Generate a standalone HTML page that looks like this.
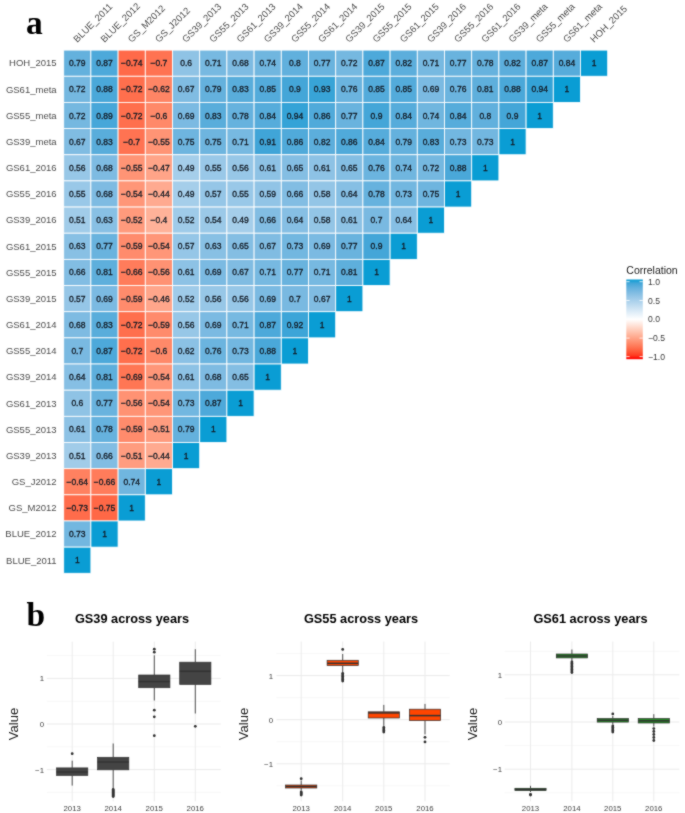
<!DOCTYPE html>
<html><head><meta charset="utf-8"><title>Correlation heatmap and boxplots</title>
<style>
html,body{margin:0;padding:0;background:#fff;}
body{width:685px;height:813px;overflow:hidden;}
svg{display:block;}
text{font-family:"Liberation Sans",Arial,sans-serif;}
.cv text{font-size:8.5px;fill:#121a24;stroke:#121a24;stroke-width:0.3px;}
.rl text{font-size:9.5px;fill:#4d4d4d;}
.lt{font-size:10.5px;fill:#222;}
.ll text{font-size:8.6px;fill:#383838;}
.pl{font-family:"Liberation Serif","Times New Roman",serif !important;font-weight:bold;font-size:33.5px;fill:#000;}
.gmn{stroke:#f2f2f2;stroke-width:0.6;}
.gmj{stroke:#ebebeb;stroke-width:1;}
.box .wh{stroke:#333;stroke-width:0.85;}
.box .bx{stroke:#333;stroke-width:0.7;}
.box .md{stroke:#333;stroke-width:1.5;}
.box circle{fill:#333;}
.tk text{font-size:7.8px;fill:#444;}
.ti{font-size:12.75px;font-weight:bold;fill:#000;}
.vl{font-size:13px;fill:#1a1a1a;}
</style></head>
<body>
<svg width="685" height="813" viewBox="0 0 685 813">
<defs><filter id="soft" filterUnits="userSpaceOnUse" x="0" y="0" width="685" height="813" color-interpolation-filters="sRGB"><feConvolveMatrix order="3" kernelMatrix="1 2 1 2 16 2 1 2 1" divisor="28" edgeMode="duplicate"/></filter></defs>
<g filter="url(#soft)">
<rect x="0" y="0" width="685" height="813" fill="#fff"/>
<g stroke="#fff" stroke-width="0.85"><rect x="63.70" y="50.10" width="27.20" height="26.16" fill="#64b1dd"/><rect x="90.90" y="50.10" width="27.20" height="26.16" fill="#4da9da"/><rect x="118.10" y="50.10" width="27.20" height="26.16" fill="#ff6a49"/><rect x="145.30" y="50.10" width="27.20" height="26.16" fill="#ff7352"/><rect x="172.50" y="50.10" width="27.20" height="26.16" fill="#8fc3e5"/><rect x="199.70" y="50.10" width="27.20" height="26.16" fill="#77b9e1"/><rect x="226.90" y="50.10" width="27.20" height="26.16" fill="#7ebbe2"/><rect x="254.10" y="50.10" width="27.20" height="26.16" fill="#70b6df"/><rect x="281.30" y="50.10" width="27.20" height="26.16" fill="#61b0dd"/><rect x="308.50" y="50.10" width="27.20" height="26.16" fill="#69b3de"/><rect x="335.70" y="50.10" width="27.20" height="26.16" fill="#75b8e0"/><rect x="362.90" y="50.10" width="27.20" height="26.16" fill="#4da9da"/><rect x="390.10" y="50.10" width="27.20" height="26.16" fill="#5caedc"/><rect x="417.30" y="50.10" width="27.20" height="26.16" fill="#77b9e1"/><rect x="444.50" y="50.10" width="27.20" height="26.16" fill="#69b3de"/><rect x="471.70" y="50.10" width="27.20" height="26.16" fill="#66b2de"/><rect x="498.90" y="50.10" width="27.20" height="26.16" fill="#5caedc"/><rect x="526.10" y="50.10" width="27.20" height="26.16" fill="#4da9da"/><rect x="553.30" y="50.10" width="27.20" height="26.16" fill="#56acdb"/><rect x="580.50" y="50.10" width="27.20" height="26.16" fill="#0a9dd4"/><rect x="63.70" y="76.26" width="27.20" height="26.16" fill="#75b8e0"/><rect x="90.90" y="76.26" width="27.20" height="26.16" fill="#4aa8d9"/><rect x="118.10" y="76.26" width="27.20" height="26.16" fill="#ff6f4d"/><rect x="145.30" y="76.26" width="27.20" height="26.16" fill="#ff8565"/><rect x="172.50" y="76.26" width="27.20" height="26.16" fill="#80bce2"/><rect x="199.70" y="76.26" width="27.20" height="26.16" fill="#64b1dd"/><rect x="226.90" y="76.26" width="27.20" height="26.16" fill="#59addb"/><rect x="254.10" y="76.26" width="27.20" height="26.16" fill="#53abdb"/><rect x="281.30" y="76.26" width="27.20" height="26.16" fill="#44a6d8"/><rect x="308.50" y="76.26" width="27.20" height="26.16" fill="#38a4d7"/><rect x="335.70" y="76.26" width="27.20" height="26.16" fill="#6bb4df"/><rect x="362.90" y="76.26" width="27.20" height="26.16" fill="#53abdb"/><rect x="390.10" y="76.26" width="27.20" height="26.16" fill="#53abdb"/><rect x="417.30" y="76.26" width="27.20" height="26.16" fill="#7bbae2"/><rect x="444.50" y="76.26" width="27.20" height="26.16" fill="#6bb4df"/><rect x="471.70" y="76.26" width="27.20" height="26.16" fill="#5eafdc"/><rect x="498.90" y="76.26" width="27.20" height="26.16" fill="#4aa8d9"/><rect x="526.10" y="76.26" width="27.20" height="26.16" fill="#34a3d7"/><rect x="553.30" y="76.26" width="27.20" height="26.16" fill="#0a9dd4"/><rect x="63.70" y="102.42" width="27.20" height="26.16" fill="#75b8e0"/><rect x="90.90" y="102.42" width="27.20" height="26.16" fill="#47a7d9"/><rect x="118.10" y="102.42" width="27.20" height="26.16" fill="#ff6f4d"/><rect x="145.30" y="102.42" width="27.20" height="26.16" fill="#ff8969"/><rect x="172.50" y="102.42" width="27.20" height="26.16" fill="#7bbae2"/><rect x="199.70" y="102.42" width="27.20" height="26.16" fill="#59addb"/><rect x="226.90" y="102.42" width="27.20" height="26.16" fill="#66b2de"/><rect x="254.10" y="102.42" width="27.20" height="26.16" fill="#56acdb"/><rect x="281.30" y="102.42" width="27.20" height="26.16" fill="#34a3d7"/><rect x="308.50" y="102.42" width="27.20" height="26.16" fill="#50aada"/><rect x="335.70" y="102.42" width="27.20" height="26.16" fill="#69b3de"/><rect x="362.90" y="102.42" width="27.20" height="26.16" fill="#44a6d8"/><rect x="390.10" y="102.42" width="27.20" height="26.16" fill="#56acdb"/><rect x="417.30" y="102.42" width="27.20" height="26.16" fill="#70b6df"/><rect x="444.50" y="102.42" width="27.20" height="26.16" fill="#56acdb"/><rect x="471.70" y="102.42" width="27.20" height="26.16" fill="#61b0dd"/><rect x="498.90" y="102.42" width="27.20" height="26.16" fill="#44a6d8"/><rect x="526.10" y="102.42" width="27.20" height="26.16" fill="#0a9dd4"/><rect x="63.70" y="128.58" width="27.20" height="26.16" fill="#80bce2"/><rect x="90.90" y="128.58" width="27.20" height="26.16" fill="#59addb"/><rect x="118.10" y="128.58" width="27.20" height="26.16" fill="#ff7352"/><rect x="145.30" y="128.58" width="27.20" height="26.16" fill="#ff9475"/><rect x="172.50" y="128.58" width="27.20" height="26.16" fill="#6eb5df"/><rect x="199.70" y="128.58" width="27.20" height="26.16" fill="#6eb5df"/><rect x="226.90" y="128.58" width="27.20" height="26.16" fill="#77b9e1"/><rect x="254.10" y="128.58" width="27.20" height="26.16" fill="#40a5d8"/><rect x="281.30" y="128.58" width="27.20" height="26.16" fill="#50aada"/><rect x="308.50" y="128.58" width="27.20" height="26.16" fill="#5caedc"/><rect x="335.70" y="128.58" width="27.20" height="26.16" fill="#50aada"/><rect x="362.90" y="128.58" width="27.20" height="26.16" fill="#56acdb"/><rect x="390.10" y="128.58" width="27.20" height="26.16" fill="#64b1dd"/><rect x="417.30" y="128.58" width="27.20" height="26.16" fill="#59addb"/><rect x="444.50" y="128.58" width="27.20" height="26.16" fill="#72b7e0"/><rect x="471.70" y="128.58" width="27.20" height="26.16" fill="#72b7e0"/><rect x="498.90" y="128.58" width="27.20" height="26.16" fill="#0a9dd4"/><rect x="63.70" y="154.74" width="27.20" height="26.16" fill="#97c7e7"/><rect x="90.90" y="154.74" width="27.20" height="26.16" fill="#7ebbe2"/><rect x="118.10" y="154.74" width="27.20" height="26.16" fill="#ff9475"/><rect x="145.30" y="154.74" width="27.20" height="26.16" fill="#ffa488"/><rect x="172.50" y="154.74" width="27.20" height="26.16" fill="#a5ceea"/><rect x="199.70" y="154.74" width="27.20" height="26.16" fill="#99c8e8"/><rect x="226.90" y="154.74" width="27.20" height="26.16" fill="#97c7e7"/><rect x="254.10" y="154.74" width="27.20" height="26.16" fill="#8dc2e5"/><rect x="281.30" y="154.74" width="27.20" height="26.16" fill="#84bee3"/><rect x="308.50" y="154.74" width="27.20" height="26.16" fill="#8dc2e5"/><rect x="335.70" y="154.74" width="27.20" height="26.16" fill="#84bee3"/><rect x="362.90" y="154.74" width="27.20" height="26.16" fill="#6bb4df"/><rect x="390.10" y="154.74" width="27.20" height="26.16" fill="#70b6df"/><rect x="417.30" y="154.74" width="27.20" height="26.16" fill="#75b8e0"/><rect x="444.50" y="154.74" width="27.20" height="26.16" fill="#4aa8d9"/><rect x="471.70" y="154.74" width="27.20" height="26.16" fill="#0a9dd4"/><rect x="63.70" y="180.90" width="27.20" height="26.16" fill="#99c8e8"/><rect x="90.90" y="180.90" width="27.20" height="26.16" fill="#7ebbe2"/><rect x="118.10" y="180.90" width="27.20" height="26.16" fill="#ff9678"/><rect x="145.30" y="180.90" width="27.20" height="26.16" fill="#ffaa90"/><rect x="172.50" y="180.90" width="27.20" height="26.16" fill="#a5ceea"/><rect x="199.70" y="180.90" width="27.20" height="26.16" fill="#95c6e7"/><rect x="226.90" y="180.90" width="27.20" height="26.16" fill="#99c8e8"/><rect x="254.10" y="180.90" width="27.20" height="26.16" fill="#91c4e6"/><rect x="281.30" y="180.90" width="27.20" height="26.16" fill="#82bde3"/><rect x="308.50" y="180.90" width="27.20" height="26.16" fill="#93c5e6"/><rect x="335.70" y="180.90" width="27.20" height="26.16" fill="#86bfe4"/><rect x="362.90" y="180.90" width="27.20" height="26.16" fill="#66b2de"/><rect x="390.10" y="180.90" width="27.20" height="26.16" fill="#72b7e0"/><rect x="417.30" y="180.90" width="27.20" height="26.16" fill="#6eb5df"/><rect x="444.50" y="180.90" width="27.20" height="26.16" fill="#0a9dd4"/><rect x="63.70" y="207.06" width="27.20" height="26.16" fill="#a1cce9"/><rect x="90.90" y="207.06" width="27.20" height="26.16" fill="#88c0e4"/><rect x="118.10" y="207.06" width="27.20" height="26.16" fill="#ff9a7c"/><rect x="145.30" y="207.06" width="27.20" height="26.16" fill="#ffb299"/><rect x="172.50" y="207.06" width="27.20" height="26.16" fill="#9fcbe9"/><rect x="199.70" y="207.06" width="27.20" height="26.16" fill="#9bc9e8"/><rect x="226.90" y="207.06" width="27.20" height="26.16" fill="#a5ceea"/><rect x="254.10" y="207.06" width="27.20" height="26.16" fill="#82bde3"/><rect x="281.30" y="207.06" width="27.20" height="26.16" fill="#86bfe4"/><rect x="308.50" y="207.06" width="27.20" height="26.16" fill="#93c5e6"/><rect x="335.70" y="207.06" width="27.20" height="26.16" fill="#8dc2e5"/><rect x="362.90" y="207.06" width="27.20" height="26.16" fill="#79b9e1"/><rect x="390.10" y="207.06" width="27.20" height="26.16" fill="#86bfe4"/><rect x="417.30" y="207.06" width="27.20" height="26.16" fill="#0a9dd4"/><rect x="63.70" y="233.22" width="27.20" height="26.16" fill="#88c0e4"/><rect x="90.90" y="233.22" width="27.20" height="26.16" fill="#69b3de"/><rect x="118.10" y="233.22" width="27.20" height="26.16" fill="#ff8b6c"/><rect x="145.30" y="233.22" width="27.20" height="26.16" fill="#ff9678"/><rect x="172.50" y="233.22" width="27.20" height="26.16" fill="#95c6e7"/><rect x="199.70" y="233.22" width="27.20" height="26.16" fill="#88c0e4"/><rect x="226.90" y="233.22" width="27.20" height="26.16" fill="#84bee3"/><rect x="254.10" y="233.22" width="27.20" height="26.16" fill="#80bce2"/><rect x="281.30" y="233.22" width="27.20" height="26.16" fill="#72b7e0"/><rect x="308.50" y="233.22" width="27.20" height="26.16" fill="#7bbae2"/><rect x="335.70" y="233.22" width="27.20" height="26.16" fill="#69b3de"/><rect x="362.90" y="233.22" width="27.20" height="26.16" fill="#44a6d8"/><rect x="390.10" y="233.22" width="27.20" height="26.16" fill="#0a9dd4"/><rect x="63.70" y="259.38" width="27.20" height="26.16" fill="#82bde3"/><rect x="90.90" y="259.38" width="27.20" height="26.16" fill="#5eafdc"/><rect x="118.10" y="259.38" width="27.20" height="26.16" fill="#ff7c5b"/><rect x="145.30" y="259.38" width="27.20" height="26.16" fill="#ff9273"/><rect x="172.50" y="259.38" width="27.20" height="26.16" fill="#8dc2e5"/><rect x="199.70" y="259.38" width="27.20" height="26.16" fill="#7bbae2"/><rect x="226.90" y="259.38" width="27.20" height="26.16" fill="#80bce2"/><rect x="254.10" y="259.38" width="27.20" height="26.16" fill="#77b9e1"/><rect x="281.30" y="259.38" width="27.20" height="26.16" fill="#69b3de"/><rect x="308.50" y="259.38" width="27.20" height="26.16" fill="#77b9e1"/><rect x="335.70" y="259.38" width="27.20" height="26.16" fill="#5eafdc"/><rect x="362.90" y="259.38" width="27.20" height="26.16" fill="#0a9dd4"/><rect x="63.70" y="285.54" width="27.20" height="26.16" fill="#95c6e7"/><rect x="90.90" y="285.54" width="27.20" height="26.16" fill="#7bbae2"/><rect x="118.10" y="285.54" width="27.20" height="26.16" fill="#ff8b6c"/><rect x="145.30" y="285.54" width="27.20" height="26.16" fill="#ffa68b"/><rect x="172.50" y="285.54" width="27.20" height="26.16" fill="#9fcbe9"/><rect x="199.70" y="285.54" width="27.20" height="26.16" fill="#97c7e7"/><rect x="226.90" y="285.54" width="27.20" height="26.16" fill="#97c7e7"/><rect x="254.10" y="285.54" width="27.20" height="26.16" fill="#7bbae2"/><rect x="281.30" y="285.54" width="27.20" height="26.16" fill="#79b9e1"/><rect x="308.50" y="285.54" width="27.20" height="26.16" fill="#80bce2"/><rect x="335.70" y="285.54" width="27.20" height="26.16" fill="#0a9dd4"/><rect x="63.70" y="311.70" width="27.20" height="26.16" fill="#7ebbe2"/><rect x="90.90" y="311.70" width="27.20" height="26.16" fill="#59addb"/><rect x="118.10" y="311.70" width="27.20" height="26.16" fill="#ff6f4d"/><rect x="145.30" y="311.70" width="27.20" height="26.16" fill="#ff8b6c"/><rect x="172.50" y="311.70" width="27.20" height="26.16" fill="#97c7e7"/><rect x="199.70" y="311.70" width="27.20" height="26.16" fill="#7bbae2"/><rect x="226.90" y="311.70" width="27.20" height="26.16" fill="#77b9e1"/><rect x="254.10" y="311.70" width="27.20" height="26.16" fill="#4da9da"/><rect x="281.30" y="311.70" width="27.20" height="26.16" fill="#3ca5d8"/><rect x="308.50" y="311.70" width="27.20" height="26.16" fill="#0a9dd4"/><rect x="63.70" y="337.86" width="27.20" height="26.16" fill="#79b9e1"/><rect x="90.90" y="337.86" width="27.20" height="26.16" fill="#4da9da"/><rect x="118.10" y="337.86" width="27.20" height="26.16" fill="#ff6f4d"/><rect x="145.30" y="337.86" width="27.20" height="26.16" fill="#ff8969"/><rect x="172.50" y="337.86" width="27.20" height="26.16" fill="#8bc1e5"/><rect x="199.70" y="337.86" width="27.20" height="26.16" fill="#6bb4df"/><rect x="226.90" y="337.86" width="27.20" height="26.16" fill="#72b7e0"/><rect x="254.10" y="337.86" width="27.20" height="26.16" fill="#4aa8d9"/><rect x="281.30" y="337.86" width="27.20" height="26.16" fill="#0a9dd4"/><rect x="63.70" y="364.02" width="27.20" height="26.16" fill="#86bfe4"/><rect x="90.90" y="364.02" width="27.20" height="26.16" fill="#5eafdc"/><rect x="118.10" y="364.02" width="27.20" height="26.16" fill="#ff7654"/><rect x="145.30" y="364.02" width="27.20" height="26.16" fill="#ff9678"/><rect x="172.50" y="364.02" width="27.20" height="26.16" fill="#8dc2e5"/><rect x="199.70" y="364.02" width="27.20" height="26.16" fill="#7ebbe2"/><rect x="226.90" y="364.02" width="27.20" height="26.16" fill="#84bee3"/><rect x="254.10" y="364.02" width="27.20" height="26.16" fill="#0a9dd4"/><rect x="63.70" y="390.18" width="27.20" height="26.16" fill="#8fc3e5"/><rect x="90.90" y="390.18" width="27.20" height="26.16" fill="#69b3de"/><rect x="118.10" y="390.18" width="27.20" height="26.16" fill="#ff9273"/><rect x="145.30" y="390.18" width="27.20" height="26.16" fill="#ff9678"/><rect x="172.50" y="390.18" width="27.20" height="26.16" fill="#72b7e0"/><rect x="199.70" y="390.18" width="27.20" height="26.16" fill="#4da9da"/><rect x="226.90" y="390.18" width="27.20" height="26.16" fill="#0a9dd4"/><rect x="63.70" y="416.34" width="27.20" height="26.16" fill="#8dc2e5"/><rect x="90.90" y="416.34" width="27.20" height="26.16" fill="#66b2de"/><rect x="118.10" y="416.34" width="27.20" height="26.16" fill="#ff8b6c"/><rect x="145.30" y="416.34" width="27.20" height="26.16" fill="#ff9c7f"/><rect x="172.50" y="416.34" width="27.20" height="26.16" fill="#64b1dd"/><rect x="199.70" y="416.34" width="27.20" height="26.16" fill="#0a9dd4"/><rect x="63.70" y="442.50" width="27.20" height="26.16" fill="#a1cce9"/><rect x="90.90" y="442.50" width="27.20" height="26.16" fill="#82bde3"/><rect x="118.10" y="442.50" width="27.20" height="26.16" fill="#ff9c7f"/><rect x="145.30" y="442.50" width="27.20" height="26.16" fill="#ffaa90"/><rect x="172.50" y="442.50" width="27.20" height="26.16" fill="#0a9dd4"/><rect x="63.70" y="468.66" width="27.20" height="26.16" fill="#ff8160"/><rect x="90.90" y="468.66" width="27.20" height="26.16" fill="#ff7c5b"/><rect x="118.10" y="468.66" width="27.20" height="26.16" fill="#70b6df"/><rect x="145.30" y="468.66" width="27.20" height="26.16" fill="#0a9dd4"/><rect x="63.70" y="494.82" width="27.20" height="26.16" fill="#ff6c4b"/><rect x="90.90" y="494.82" width="27.20" height="26.16" fill="#ff6846"/><rect x="118.10" y="494.82" width="27.20" height="26.16" fill="#0a9dd4"/><rect x="63.70" y="520.98" width="27.20" height="26.16" fill="#72b7e0"/><rect x="90.90" y="520.98" width="27.20" height="26.16" fill="#0a9dd4"/><rect x="63.70" y="547.14" width="27.20" height="26.16" fill="#0a9dd4"/></g>
<g class="cv" text-anchor="middle"><text x="77.30" y="66.18">0.79</text><text x="104.50" y="66.18">0.87</text><text x="131.70" y="66.18">−0.74</text><text x="158.90" y="66.18">−0.7</text><text x="186.10" y="66.18">0.6</text><text x="213.30" y="66.18">0.71</text><text x="240.50" y="66.18">0.68</text><text x="267.70" y="66.18">0.74</text><text x="294.90" y="66.18">0.8</text><text x="322.10" y="66.18">0.77</text><text x="349.30" y="66.18">0.72</text><text x="376.50" y="66.18">0.87</text><text x="403.70" y="66.18">0.82</text><text x="430.90" y="66.18">0.71</text><text x="458.10" y="66.18">0.77</text><text x="485.30" y="66.18">0.78</text><text x="512.50" y="66.18">0.82</text><text x="539.70" y="66.18">0.87</text><text x="566.90" y="66.18">0.84</text><text x="594.10" y="66.18">1</text><text x="77.30" y="92.34">0.72</text><text x="104.50" y="92.34">0.88</text><text x="131.70" y="92.34">−0.72</text><text x="158.90" y="92.34">−0.62</text><text x="186.10" y="92.34">0.67</text><text x="213.30" y="92.34">0.79</text><text x="240.50" y="92.34">0.83</text><text x="267.70" y="92.34">0.85</text><text x="294.90" y="92.34">0.9</text><text x="322.10" y="92.34">0.93</text><text x="349.30" y="92.34">0.76</text><text x="376.50" y="92.34">0.85</text><text x="403.70" y="92.34">0.85</text><text x="430.90" y="92.34">0.69</text><text x="458.10" y="92.34">0.76</text><text x="485.30" y="92.34">0.81</text><text x="512.50" y="92.34">0.88</text><text x="539.70" y="92.34">0.94</text><text x="566.90" y="92.34">1</text><text x="77.30" y="118.50">0.72</text><text x="104.50" y="118.50">0.89</text><text x="131.70" y="118.50">−0.72</text><text x="158.90" y="118.50">−0.6</text><text x="186.10" y="118.50">0.69</text><text x="213.30" y="118.50">0.83</text><text x="240.50" y="118.50">0.78</text><text x="267.70" y="118.50">0.84</text><text x="294.90" y="118.50">0.94</text><text x="322.10" y="118.50">0.86</text><text x="349.30" y="118.50">0.77</text><text x="376.50" y="118.50">0.9</text><text x="403.70" y="118.50">0.84</text><text x="430.90" y="118.50">0.74</text><text x="458.10" y="118.50">0.84</text><text x="485.30" y="118.50">0.8</text><text x="512.50" y="118.50">0.9</text><text x="539.70" y="118.50">1</text><text x="77.30" y="144.66">0.67</text><text x="104.50" y="144.66">0.83</text><text x="131.70" y="144.66">−0.7</text><text x="158.90" y="144.66">−0.55</text><text x="186.10" y="144.66">0.75</text><text x="213.30" y="144.66">0.75</text><text x="240.50" y="144.66">0.71</text><text x="267.70" y="144.66">0.91</text><text x="294.90" y="144.66">0.86</text><text x="322.10" y="144.66">0.82</text><text x="349.30" y="144.66">0.86</text><text x="376.50" y="144.66">0.84</text><text x="403.70" y="144.66">0.79</text><text x="430.90" y="144.66">0.83</text><text x="458.10" y="144.66">0.73</text><text x="485.30" y="144.66">0.73</text><text x="512.50" y="144.66">1</text><text x="77.30" y="170.82">0.56</text><text x="104.50" y="170.82">0.68</text><text x="131.70" y="170.82">−0.55</text><text x="158.90" y="170.82">−0.47</text><text x="186.10" y="170.82">0.49</text><text x="213.30" y="170.82">0.55</text><text x="240.50" y="170.82">0.56</text><text x="267.70" y="170.82">0.61</text><text x="294.90" y="170.82">0.65</text><text x="322.10" y="170.82">0.61</text><text x="349.30" y="170.82">0.65</text><text x="376.50" y="170.82">0.76</text><text x="403.70" y="170.82">0.74</text><text x="430.90" y="170.82">0.72</text><text x="458.10" y="170.82">0.88</text><text x="485.30" y="170.82">1</text><text x="77.30" y="196.98">0.55</text><text x="104.50" y="196.98">0.68</text><text x="131.70" y="196.98">−0.54</text><text x="158.90" y="196.98">−0.44</text><text x="186.10" y="196.98">0.49</text><text x="213.30" y="196.98">0.57</text><text x="240.50" y="196.98">0.55</text><text x="267.70" y="196.98">0.59</text><text x="294.90" y="196.98">0.66</text><text x="322.10" y="196.98">0.58</text><text x="349.30" y="196.98">0.64</text><text x="376.50" y="196.98">0.78</text><text x="403.70" y="196.98">0.73</text><text x="430.90" y="196.98">0.75</text><text x="458.10" y="196.98">1</text><text x="77.30" y="223.14">0.51</text><text x="104.50" y="223.14">0.63</text><text x="131.70" y="223.14">−0.52</text><text x="158.90" y="223.14">−0.4</text><text x="186.10" y="223.14">0.52</text><text x="213.30" y="223.14">0.54</text><text x="240.50" y="223.14">0.49</text><text x="267.70" y="223.14">0.66</text><text x="294.90" y="223.14">0.64</text><text x="322.10" y="223.14">0.58</text><text x="349.30" y="223.14">0.61</text><text x="376.50" y="223.14">0.7</text><text x="403.70" y="223.14">0.64</text><text x="430.90" y="223.14">1</text><text x="77.30" y="249.30">0.63</text><text x="104.50" y="249.30">0.77</text><text x="131.70" y="249.30">−0.59</text><text x="158.90" y="249.30">−0.54</text><text x="186.10" y="249.30">0.57</text><text x="213.30" y="249.30">0.63</text><text x="240.50" y="249.30">0.65</text><text x="267.70" y="249.30">0.67</text><text x="294.90" y="249.30">0.73</text><text x="322.10" y="249.30">0.69</text><text x="349.30" y="249.30">0.77</text><text x="376.50" y="249.30">0.9</text><text x="403.70" y="249.30">1</text><text x="77.30" y="275.46">0.66</text><text x="104.50" y="275.46">0.81</text><text x="131.70" y="275.46">−0.66</text><text x="158.90" y="275.46">−0.56</text><text x="186.10" y="275.46">0.61</text><text x="213.30" y="275.46">0.69</text><text x="240.50" y="275.46">0.67</text><text x="267.70" y="275.46">0.71</text><text x="294.90" y="275.46">0.77</text><text x="322.10" y="275.46">0.71</text><text x="349.30" y="275.46">0.81</text><text x="376.50" y="275.46">1</text><text x="77.30" y="301.62">0.57</text><text x="104.50" y="301.62">0.69</text><text x="131.70" y="301.62">−0.59</text><text x="158.90" y="301.62">−0.46</text><text x="186.10" y="301.62">0.52</text><text x="213.30" y="301.62">0.56</text><text x="240.50" y="301.62">0.56</text><text x="267.70" y="301.62">0.69</text><text x="294.90" y="301.62">0.7</text><text x="322.10" y="301.62">0.67</text><text x="349.30" y="301.62">1</text><text x="77.30" y="327.78">0.68</text><text x="104.50" y="327.78">0.83</text><text x="131.70" y="327.78">−0.72</text><text x="158.90" y="327.78">−0.59</text><text x="186.10" y="327.78">0.56</text><text x="213.30" y="327.78">0.69</text><text x="240.50" y="327.78">0.71</text><text x="267.70" y="327.78">0.87</text><text x="294.90" y="327.78">0.92</text><text x="322.10" y="327.78">1</text><text x="77.30" y="353.94">0.7</text><text x="104.50" y="353.94">0.87</text><text x="131.70" y="353.94">−0.72</text><text x="158.90" y="353.94">−0.6</text><text x="186.10" y="353.94">0.62</text><text x="213.30" y="353.94">0.76</text><text x="240.50" y="353.94">0.73</text><text x="267.70" y="353.94">0.88</text><text x="294.90" y="353.94">1</text><text x="77.30" y="380.10">0.64</text><text x="104.50" y="380.10">0.81</text><text x="131.70" y="380.10">−0.69</text><text x="158.90" y="380.10">−0.54</text><text x="186.10" y="380.10">0.61</text><text x="213.30" y="380.10">0.68</text><text x="240.50" y="380.10">0.65</text><text x="267.70" y="380.10">1</text><text x="77.30" y="406.26">0.6</text><text x="104.50" y="406.26">0.77</text><text x="131.70" y="406.26">−0.56</text><text x="158.90" y="406.26">−0.54</text><text x="186.10" y="406.26">0.73</text><text x="213.30" y="406.26">0.87</text><text x="240.50" y="406.26">1</text><text x="77.30" y="432.42">0.61</text><text x="104.50" y="432.42">0.78</text><text x="131.70" y="432.42">−0.59</text><text x="158.90" y="432.42">−0.51</text><text x="186.10" y="432.42">0.79</text><text x="213.30" y="432.42">1</text><text x="77.30" y="458.58">0.51</text><text x="104.50" y="458.58">0.66</text><text x="131.70" y="458.58">−0.51</text><text x="158.90" y="458.58">−0.44</text><text x="186.10" y="458.58">1</text><text x="77.30" y="484.74">−0.64</text><text x="104.50" y="484.74">−0.66</text><text x="131.70" y="484.74">0.74</text><text x="158.90" y="484.74">1</text><text x="77.30" y="510.90">−0.73</text><text x="104.50" y="510.90">−0.75</text><text x="131.70" y="510.90">1</text><text x="77.30" y="537.06">0.73</text><text x="104.50" y="537.06">1</text><text x="77.30" y="563.22">1</text></g>
<g class="rl" text-anchor="end"><text x="56.6" y="66.48">HOH_2015</text><text x="56.6" y="92.64">GS61_meta</text><text x="56.6" y="118.80">GS55_meta</text><text x="56.6" y="144.96">GS39_meta</text><text x="56.6" y="171.12">GS61_2016</text><text x="56.6" y="197.28">GS55_2016</text><text x="56.6" y="223.44">GS39_2016</text><text x="56.6" y="249.60">GS61_2015</text><text x="56.6" y="275.76">GS55_2015</text><text x="56.6" y="301.92">GS39_2015</text><text x="56.6" y="328.08">GS61_2014</text><text x="56.6" y="354.24">GS55_2014</text><text x="56.6" y="380.40">GS39_2014</text><text x="56.6" y="406.56">GS61_2013</text><text x="56.6" y="432.72">GS55_2013</text><text x="56.6" y="458.88">GS39_2013</text><text x="56.6" y="485.04">GS_J2012</text><text x="56.6" y="511.20">GS_M2012</text><text x="56.6" y="537.36">BLUE_2012</text><text x="56.6" y="563.52">BLUE_2011</text></g>
<g class="rl"><text transform="translate(77.30,43) rotate(-45)">BLUE_2011</text><text transform="translate(104.50,43) rotate(-45)">BLUE_2012</text><text transform="translate(131.70,43) rotate(-45)">GS_M2012</text><text transform="translate(158.90,43) rotate(-45)">GS_J2012</text><text transform="translate(186.10,43) rotate(-45)">GS39_2013</text><text transform="translate(213.30,43) rotate(-45)">GS55_2013</text><text transform="translate(240.50,43) rotate(-45)">GS61_2013</text><text transform="translate(267.70,43) rotate(-45)">GS39_2014</text><text transform="translate(294.90,43) rotate(-45)">GS55_2014</text><text transform="translate(322.10,43) rotate(-45)">GS61_2014</text><text transform="translate(349.30,43) rotate(-45)">GS39_2015</text><text transform="translate(376.50,43) rotate(-45)">GS55_2015</text><text transform="translate(403.70,43) rotate(-45)">GS61_2015</text><text transform="translate(430.90,43) rotate(-45)">GS39_2016</text><text transform="translate(458.10,43) rotate(-45)">GS55_2016</text><text transform="translate(485.30,43) rotate(-45)">GS61_2016</text><text transform="translate(512.50,43) rotate(-45)">GS39_meta</text><text transform="translate(539.70,43) rotate(-45)">GS55_meta</text><text transform="translate(566.90,43) rotate(-45)">GS61_meta</text><text transform="translate(594.10,43) rotate(-45)">HOH_2015</text></g>
<defs><linearGradient id="lg" x1="0" y1="0" x2="0" y2="1"><stop offset="0.000" stop-color="#0a9dd4"/><stop offset="0.050" stop-color="#44a6d8"/><stop offset="0.100" stop-color="#61b0dd"/><stop offset="0.150" stop-color="#79b9e1"/><stop offset="0.200" stop-color="#8fc3e5"/><stop offset="0.250" stop-color="#a3cdea"/><stop offset="0.300" stop-color="#b6d7ee"/><stop offset="0.350" stop-color="#c9e1f2"/><stop offset="0.400" stop-color="#dbebf7"/><stop offset="0.450" stop-color="#edf5fb"/><stop offset="0.500" stop-color="#ffffff"/><stop offset="0.550" stop-color="#ffece5"/><stop offset="0.600" stop-color="#ffd9cb"/><stop offset="0.650" stop-color="#ffc6b2"/><stop offset="0.700" stop-color="#ffb299"/><stop offset="0.750" stop-color="#ff9e81"/><stop offset="0.800" stop-color="#ff8969"/><stop offset="0.850" stop-color="#ff7352"/><stop offset="0.900" stop-color="#ff5b3a"/><stop offset="0.950" stop-color="#ff3e22"/><stop offset="1.000" stop-color="#ff0000"/></linearGradient></defs>
<rect x="626.3" y="279.5" width="16.5" height="79.7" fill="url(#lg)"/>
<g stroke="#fff" stroke-width="0.8"><line x1="626.3" x2="629.6" y1="281.7" y2="281.7"/><line x1="639.5" x2="642.8" y1="281.7" y2="281.7"/><line x1="626.3" x2="629.6" y1="300.5" y2="300.5"/><line x1="639.5" x2="642.8" y1="300.5" y2="300.5"/><line x1="626.3" x2="629.6" y1="319.0" y2="319.0"/><line x1="639.5" x2="642.8" y1="319.0" y2="319.0"/><line x1="626.3" x2="629.6" y1="338.1" y2="338.1"/><line x1="639.5" x2="642.8" y1="338.1" y2="338.1"/><line x1="626.3" x2="629.6" y1="356.6" y2="356.6"/><line x1="639.5" x2="642.8" y1="356.6" y2="356.6"/></g>
<text class="lt" x="626.3" y="273.6">Correlation</text>
<g class="ll"><text x="648" y="284.9">1.0</text><text x="648" y="303.7">0.5</text><text x="648" y="322.2">0.0</text><text x="648" y="341.3">−0.5</text><text x="648" y="359.8">−1.0</text></g>
<text class="pl" x="26" y="34">a</text>
<text class="pl" x="26.5" y="625.5">b</text>
<line class="gmn" x1="46.8" x2="220.8" y1="792.40" y2="792.40"/><line class="gmn" x1="46.8" x2="220.8" y1="746.80" y2="746.80"/><line class="gmn" x1="46.8" x2="220.8" y1="701.20" y2="701.20"/><line class="gmn" x1="46.8" x2="220.8" y1="655.60" y2="655.60"/><line class="gmj" x1="46.8" x2="220.8" y1="769.60" y2="769.60"/><line class="gmj" x1="46.8" x2="220.8" y1="724.00" y2="724.00"/><line class="gmj" x1="46.8" x2="220.8" y1="678.40" y2="678.40"/><line class="gmj" x1="72.2" x2="72.2" y1="641.6" y2="801.3"/><line class="gmj" x1="113.2" x2="113.2" y1="641.6" y2="801.3"/><line class="gmj" x1="154.3" x2="154.3" y1="641.6" y2="801.3"/><line class="gmj" x1="195.3" x2="195.3" y1="641.6" y2="801.3"/>
<g class="box"><line class="wh" x1="72.2" x2="72.2" y1="760.7" y2="767.9"/><line class="wh" x1="72.2" x2="72.2" y1="775.4" y2="785.6"/><rect class="bx" x="56.60" y="767.9" width="31.20" height="7.50" fill="#444444"/><line class="md" x1="56.60" x2="87.80" y1="772.0" y2="772.0"/><circle cx="72.2" cy="753.7" r="1.4"/><line class="wh" x1="113.2" x2="113.2" y1="743.5" y2="757.3"/><line class="wh" x1="113.2" x2="113.2" y1="769.8" y2="788.4"/><rect class="bx" x="97.60" y="757.3" width="31.20" height="12.50" fill="#444444"/><line class="md" x1="97.60" x2="128.80" y1="762.0" y2="762.0"/><circle cx="113.2" cy="789.5" r="1.4"/><circle cx="113.2" cy="790.5" r="1.4"/><circle cx="113.2" cy="791.5" r="1.4"/><circle cx="113.2" cy="792.5" r="1.4"/><circle cx="113.2" cy="793.5" r="1.4"/><circle cx="113.2" cy="794.5" r="1.4"/><circle cx="113.2" cy="795.5" r="1.4"/><circle cx="113.2" cy="796.5" r="1.4"/><line class="wh" x1="154.3" x2="154.3" y1="655.3" y2="675.0"/><line class="wh" x1="154.3" x2="154.3" y1="687.7" y2="700.5"/><rect class="bx" x="138.70" y="675.0" width="31.20" height="12.70" fill="#444444"/><line class="md" x1="138.70" x2="169.90" y1="681.6" y2="681.6"/><circle cx="154.3" cy="649.2" r="1.4"/><circle cx="154.3" cy="652.2" r="1.4"/><circle cx="154.3" cy="710.2" r="1.4"/><circle cx="154.3" cy="716.8" r="1.4"/><circle cx="154.3" cy="735.7" r="1.4"/><line class="wh" x1="195.3" x2="195.3" y1="649.2" y2="662.2"/><line class="wh" x1="195.3" x2="195.3" y1="684.4" y2="713.5"/><rect class="bx" x="179.70" y="662.2" width="31.20" height="22.20" fill="#444444"/><line class="md" x1="179.70" x2="210.90" y1="671.3" y2="671.3"/><circle cx="195.3" cy="726.3" r="1.4"/></g>
<g class="tk"><text x="44" y="681.40" text-anchor="end">1</text><text x="44" y="727.00" text-anchor="end">0</text><text x="44" y="772.60" text-anchor="end">−1</text><text x="72.2" y="810.9" text-anchor="middle">2013</text><text x="113.2" y="810.9" text-anchor="middle">2014</text><text x="154.3" y="810.9" text-anchor="middle">2015</text><text x="195.3" y="810.9" text-anchor="middle">2016</text></g>
<text class="ti" x="132" y="622.7" text-anchor="middle">GS39 across years</text>
<text class="vl" transform="translate(18,724) rotate(-90)" text-anchor="middle">Value</text>
<line class="gmn" x1="276.5" x2="449.7" y1="785.85" y2="785.85"/><line class="gmn" x1="276.5" x2="449.7" y1="741.75" y2="741.75"/><line class="gmn" x1="276.5" x2="449.7" y1="697.65" y2="697.65"/><line class="gmn" x1="276.5" x2="449.7" y1="653.55" y2="653.55"/><line class="gmj" x1="276.5" x2="449.7" y1="763.80" y2="763.80"/><line class="gmj" x1="276.5" x2="449.7" y1="719.70" y2="719.70"/><line class="gmj" x1="276.5" x2="449.7" y1="675.60" y2="675.60"/><line class="gmj" x1="301.2" x2="301.2" y1="641.5" y2="801.3"/><line class="gmj" x1="342.7" x2="342.7" y1="641.5" y2="801.3"/><line class="gmj" x1="383.8" x2="383.8" y1="641.5" y2="801.3"/><line class="gmj" x1="425.0" x2="425.0" y1="641.5" y2="801.3"/>
<g class="box"><line class="wh" x1="301.2" x2="301.2" y1="780.5" y2="785.0"/><line class="wh" x1="301.2" x2="301.2" y1="788.0" y2="790.5"/><rect class="bx" x="285.60" y="785.0" width="31.20" height="3.00" fill="#FF4500"/><line class="md" x1="285.60" x2="316.80" y1="786.5" y2="786.5"/><circle cx="301.2" cy="778.7" r="1.4"/><circle cx="301.2" cy="792.0" r="1.4"/><circle cx="301.2" cy="793.0" r="1.4"/><circle cx="301.2" cy="794.0" r="1.4"/><circle cx="301.2" cy="795.0" r="1.4"/><line class="wh" x1="342.7" x2="342.7" y1="654.0" y2="660.3"/><line class="wh" x1="342.7" x2="342.7" y1="665.6" y2="672.5"/><rect class="bx" x="327.10" y="660.3" width="31.20" height="5.30" fill="#FF4500"/><line class="md" x1="327.10" x2="358.30" y1="663.3" y2="663.3"/><circle cx="342.7" cy="649.4" r="1.4"/><circle cx="342.7" cy="673.5" r="1.4"/><circle cx="342.7" cy="675" r="1.4"/><circle cx="342.7" cy="676.5" r="1.4"/><circle cx="342.7" cy="678" r="1.4"/><circle cx="342.7" cy="679.5" r="1.4"/><circle cx="342.7" cy="681" r="1.4"/><line class="wh" x1="383.8" x2="383.8" y1="704.9" y2="711.8"/><line class="wh" x1="383.8" x2="383.8" y1="718.0" y2="725.9"/><rect class="bx" x="368.20" y="711.8" width="31.20" height="6.20" fill="#FF4500"/><line class="md" x1="368.20" x2="399.40" y1="712.9" y2="712.9"/><circle cx="383.8" cy="727.5" r="1.4"/><circle cx="383.8" cy="729" r="1.4"/><circle cx="383.8" cy="730.5" r="1.4"/><circle cx="383.8" cy="732" r="1.4"/><line class="wh" x1="425.0" x2="425.0" y1="703.9" y2="709.2"/><line class="wh" x1="425.0" x2="425.0" y1="720.6" y2="734.4"/><rect class="bx" x="409.40" y="709.2" width="31.20" height="11.40" fill="#FF4500"/><line class="md" x1="409.40" x2="440.60" y1="715.6" y2="715.6"/><circle cx="425.0" cy="737.3" r="1.4"/><circle cx="425.0" cy="741.9" r="1.4"/></g>
<g class="tk"><text x="273" y="678.60" text-anchor="end">1</text><text x="273" y="722.70" text-anchor="end">0</text><text x="273" y="766.80" text-anchor="end">−1</text><text x="301.2" y="810.9" text-anchor="middle">2013</text><text x="342.7" y="810.9" text-anchor="middle">2014</text><text x="383.8" y="810.9" text-anchor="middle">2015</text><text x="425.0" y="810.9" text-anchor="middle">2016</text></g>
<text class="ti" x="361" y="622.7" text-anchor="middle">GS55 across years</text>
<text class="vl" transform="translate(248,724) rotate(-90)" text-anchor="middle">Value</text>
<line class="gmn" x1="504.7" x2="679.3" y1="792.80" y2="792.80"/><line class="gmn" x1="504.7" x2="679.3" y1="745.60" y2="745.60"/><line class="gmn" x1="504.7" x2="679.3" y1="698.40" y2="698.40"/><line class="gmn" x1="504.7" x2="679.3" y1="651.20" y2="651.20"/><line class="gmj" x1="504.7" x2="679.3" y1="769.20" y2="769.20"/><line class="gmj" x1="504.7" x2="679.3" y1="722.00" y2="722.00"/><line class="gmj" x1="504.7" x2="679.3" y1="674.80" y2="674.80"/><line class="gmj" x1="530.5" x2="530.5" y1="641.5" y2="801.3"/><line class="gmj" x1="571.9" x2="571.9" y1="641.5" y2="801.3"/><line class="gmj" x1="612.8" x2="612.8" y1="641.5" y2="801.3"/><line class="gmj" x1="653.8" x2="653.8" y1="641.5" y2="801.3"/>
<g class="box"><line class="wh" x1="530.5" x2="530.5" y1="785.8" y2="788.3"/><line class="wh" x1="530.5" x2="530.5" y1="790.5" y2="792.0"/><rect class="bx" x="514.90" y="788.3" width="31.20" height="2.20" fill="#228B22"/><line class="md" x1="514.90" x2="546.10" y1="789.4" y2="789.4"/><circle cx="530.5" cy="794.3" r="1.4"/><circle cx="530.5" cy="795.0" r="1.4"/><line class="wh" x1="571.9" x2="571.9" y1="649.5" y2="654.0"/><line class="wh" x1="571.9" x2="571.9" y1="657.9" y2="661.0"/><rect class="bx" x="556.30" y="654.0" width="31.20" height="3.90" fill="#228B22"/><line class="md" x1="556.30" x2="587.50" y1="656.0" y2="656.0"/><circle cx="571.9" cy="662" r="1.4"/><circle cx="571.9" cy="663.5" r="1.4"/><circle cx="571.9" cy="665" r="1.4"/><circle cx="571.9" cy="666.5" r="1.4"/><circle cx="571.9" cy="668" r="1.4"/><circle cx="571.9" cy="669.5" r="1.4"/><circle cx="571.9" cy="671" r="1.4"/><circle cx="571.9" cy="672.5" r="1.4"/><line class="wh" x1="612.8" x2="612.8" y1="716.0" y2="718.5"/><line class="wh" x1="612.8" x2="612.8" y1="722.1" y2="724.5"/><rect class="bx" x="597.20" y="718.5" width="31.20" height="3.60" fill="#228B22"/><line class="md" x1="597.20" x2="628.40" y1="720.3" y2="720.3"/><circle cx="612.8" cy="713.9" r="1.4"/><circle cx="612.8" cy="726" r="1.4"/><circle cx="612.8" cy="727.5" r="1.4"/><circle cx="612.8" cy="729" r="1.4"/><circle cx="612.8" cy="730.5" r="1.4"/><circle cx="612.8" cy="732" r="1.4"/><line class="wh" x1="653.8" x2="653.8" y1="714.2" y2="718.5"/><line class="wh" x1="653.8" x2="653.8" y1="723.0" y2="726.5"/><rect class="bx" x="638.20" y="718.5" width="31.20" height="4.50" fill="#228B22"/><line class="md" x1="638.20" x2="669.40" y1="720.8" y2="720.8"/><circle cx="653.8" cy="728.6" r="1.4"/><circle cx="653.8" cy="731.5" r="1.4"/><circle cx="653.8" cy="734.5" r="1.4"/><circle cx="653.8" cy="737.5" r="1.4"/><circle cx="653.8" cy="740.5" r="1.4"/></g>
<g class="tk"><text x="502" y="677.80" text-anchor="end">1</text><text x="502" y="725.00" text-anchor="end">0</text><text x="502" y="772.20" text-anchor="end">−1</text><text x="530.5" y="810.9" text-anchor="middle">2013</text><text x="571.9" y="810.9" text-anchor="middle">2014</text><text x="612.8" y="810.9" text-anchor="middle">2015</text><text x="653.8" y="810.9" text-anchor="middle">2016</text></g>
<text class="ti" x="590.5" y="622.7" text-anchor="middle">GS61 across years</text>
<text class="vl" transform="translate(476.5,724) rotate(-90)" text-anchor="middle">Value</text>
</g>
</svg>
</body></html>
